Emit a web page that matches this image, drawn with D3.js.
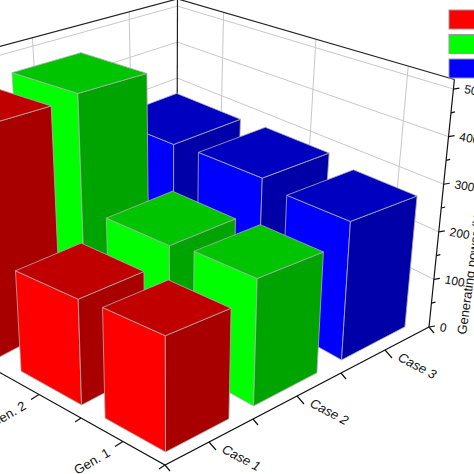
<!DOCTYPE html><html><head><meta charset="utf-8"><script src="https://cdn.jsdelivr.net/npm/d3@7"></script>
<style>body{margin:0;background:#fff}svg{display:block}</style></head><body><svg id="c" width="474" height="474"></svg>
<script>
const cases=["Case 1","Case 2","Case 3"];
const gens=["Gen. 1","Gen. 2","Gen. 3"];
const case1=[200,195,460];
const case2=[235,225,470];
const case3=[275,290,285];
const zTicks=[0,100,200,300,400,500];
const zMax=520;
const colors={ "Case 1":["#ff0000","#a80000","#c00000"], "Case 2":["#00ff00","#00a400","#00c400"], "Case 3":["#0000ff","#0000a8","#0000c0"]};
const series=[case1,case2,case3];

const svg=d3.select("#c");
const cS=d3.scaleBand().domain(cases).range([0,3]).paddingInner(0.28).paddingOuter(0.14);
const gS=d3.scaleBand().domain(gens).range([0,3]).paddingInner(0.28).paddingOuter(0.14);
const zS=d3.scaleLinear().domain([0,zMax]).range([0,zMax]);
function P(c,g,z){const xb=165+88*c-84*g, yb=465-46*c-47*g; const s=0.592-0.0387*(c+g);
  const zz=zS(z); return [xb+(xb-172)*zz*0.00019, yb-zz*s];}
const line=pts=>"M"+pts.map(p=>p.join(",")).join("L");
const grid=svg.append("g").attr("stroke","#c8c8c8").attr("stroke-width",1).attr("fill","none");
zTicks.slice(1).forEach(z=>{grid.append("path").attr("d",line([P(3,0,z),P(3,3,z),P(0,3,z)]));});
gens.forEach(g=>{const gv=gS(g)+gS.bandwidth()/2; grid.append("path").attr("d",line([P(3,gv,0),P(3,gv,zMax)]));});
cases.forEach(c=>{const cv=cS(c)+cS.bandwidth()/2; grid.append("path").attr("d",line([P(cv,3,0),P(cv,3,zMax)]));});
const frame=svg.append("g").attr("stroke","#222").attr("stroke-width",1.2).attr("fill","none");
frame.append("path").attr("d",line([P(3,0,zMax),P(3,3,zMax),P(0,3,zMax)]));
frame.append("path").attr("d",line([P(3,3,0),P(3,3,zMax)]));
const bars=[];
cases.forEach((c,i)=>gens.forEach((g,j)=>bars.push({c,g,v:series[i][j]})));
bars.sort((a,b)=>(cS(b.c)+gS(b.g))-(cS(a.c)+gS(a.g)));
const bw=cS.bandwidth();
bars.forEach(b=>{const c0=cS(b.c),c1=c0+bw,g0=gS(b.g),g1=g0+bw,v=b.v,col=colors[b.c];
  const gB=svg.append("g").attr("stroke","#b0b0b0").attr("stroke-width",0.8);
  gB.append("path").attr("fill",col[0]).attr("d",line([P(c0,g0,0),P(c0,g1,0),P(c0,g1,v),P(c0,g0,v)])+"Z");
  gB.append("path").attr("fill",col[1]).attr("d",line([P(c0,g0,0),P(c1,g0,0),P(c1,g0,v),P(c0,g0,v)])+"Z");
  gB.append("path").attr("fill",col[2]).attr("d",line([P(c0,g0,v),P(c1,g0,v),P(c1,g1,v),P(c0,g1,v)])+"Z");
});
const ax=svg.append("g").attr("stroke","#111").attr("stroke-width",1.2).attr("fill","none");
ax.append("path").attr("d",line([P(0,3,0),P(0,0,0),P(3,0,0)]));
ax.append("path").attr("d",line([P(3,0,0),P(3,0,zMax)]));
const tx=svg.append("g").attr("font-family","Arial, Liberation Sans, sans-serif").attr("font-size",12).attr("fill","#111");
zTicks.forEach(z=>{const p=P(3,0,z); ax.append("path").attr("d",`M${p[0]},${p[1]}l6,-1`);
  tx.append("text").attr("x",p[0]+11).attr("y",p[1]+4).attr("transform",`rotate(10,${p[0]+11},${p[1]})`).text(z);});
zTicks.slice(0,-1).forEach(z=>{const p=P(3,0,z+50); ax.append("path").attr("d",`M${p[0]},${p[1]}l4,-1`);});
[0,1,2,3].forEach(k=>{let p=P(k,0,0); ax.append("path").attr("d",`M${p[0]},${p[1]}l5,6`);
  p=P(0,k,0); ax.append("path").attr("d",`M${p[0]},${p[1]}l-6,4`);});
cases.forEach(c=>{const p=P(cS(c)+bw/2,0,0); ax.append("path").attr("d",`M${p[0]},${p[1]}l7,8`);
  tx.append("text").attr("x",p[0]+12).attr("y",p[1]+10).attr("font-size",13).attr("font-style","italic").attr("transform",`rotate(28,${p[0]+12},${p[1]+10})`).text(c);});
gens.forEach(g=>{const p=P(0,gS(g)+bw/2,0); ax.append("path").attr("d",`M${p[0]},${p[1]}l-8,5`);
  tx.append("text").attr("x",p[0]-12).attr("y",p[1]+14).attr("font-size",13).attr("text-anchor","end").attr("transform",`rotate(-30,${p[0]-12},${p[1]+14})`).text(g);});
tx.append("text").attr("x",466).attr("y",335).attr("transform","rotate(-82,466,335)").attr("font-size",13).text("Generating power (kW)");
const lg=svg.append("g");
cases.forEach((c,i)=>{lg.append("rect").attr("x",449).attr("y",10+i*24.5).attr("width",30).attr("height",19).attr("fill",colors[c][0]).attr("stroke","#999");
  lg.append("text").attr("x",484).attr("y",24+i*24.5).attr("font-size",12).text(c);});
</script></body></html>
